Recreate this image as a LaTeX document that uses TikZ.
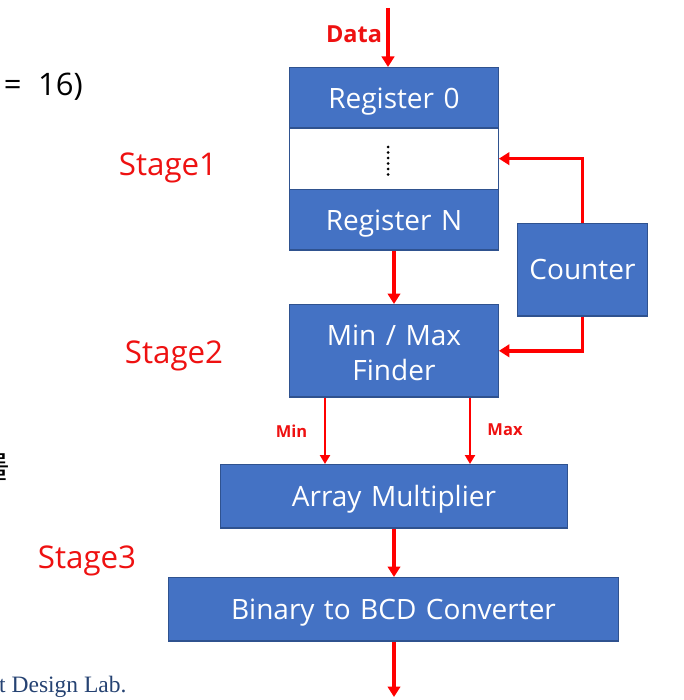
\documentclass[tikz,border=0pt]{standalone}
\usepackage{fontspec}
\setmainfont{Open Sans}[WordSpace=1.3]
\newfontfamily\krfont{Noto Sans CJK KR}
\newfontfamily\serifl{Liberation Serif}
\usetikzlibrary{arrows.meta}
\definecolor{boxblue}{HTML}{4472C4}
\definecolor{boxedge}{HTML}{2F528F}
\definecolor{redtxt}{HTML}{EE1111}
\tikzset{
  x=1pt,y=-1pt,
  block/.style={draw=boxedge,line width=1.3pt,fill=boxblue,text=white,font=\fontsize{28}{33}\selectfont,align=center,inner sep=0pt,anchor=north west},
  midbox/.style={draw=boxedge,line width=1.3pt,fill=white,inner sep=0pt,anchor=north west},
  flow/.style={draw=red,line width=3.7pt,-{Triangle[length=10.5pt,width=12.5pt]}},
  thin flow/.style={draw=red,line width=2.4pt,-{Triangle[length=9pt,width=10pt]}},
  stage/.style={text=redtxt,font=\fontsize{31.3}{36}\selectfont,inner sep=0pt},
  tag/.style={text=redtxt,font=\bfseries\fontsize{16.5}{19}\selectfont,inner sep=0pt},
}
\begin{document}
\begin{tikzpicture}
\useasboundingbox (0,0) rectangle (683,700);
\node[midbox,minimum width=208.6pt,minimum height=62pt] (mid) at (289,127) {};
\node[block,minimum width=208.6pt,minimum height=60.3pt,text depth=-7pt] (r0) at (289,67) {Register 0};
\node[block,minimum width=208.6pt,minimum height=60.3pt,text depth=-7pt] (rn) at (289,189) {Register N};
\node[block,minimum width=129.6pt,minimum height=92.3pt,text depth=-9pt] (cnt) at (517,223) {Counter};
\node[block,minimum width=208.6pt,minimum height=92.3pt,font=\fontsize{28}{35}\selectfont] (mm) at (289,304) {\rule{0pt}{24pt}Min / Max\\Finder};
\node[block,minimum width=346.6pt,minimum height=63.3pt,text depth=-7pt] (am) at (220,464) {Array Multiplier};
\node[block,minimum width=449.6pt,minimum height=63.3pt,text depth=-8pt] (bcd) at (168,577) {Binary to BCD Converter};
\foreach \y in {147,152.5,158,163.5,169,174.5} \fill (388,\y) circle (1.5pt);
\coordinate (top) at (388,8);
\coordinate (bottom) at (394,697);
\draw[flow] (top) -- (r0.north -| top);
\draw[flow] (rn.south -| 394,0) -- (mm.north -| 394,0);
\draw[flow] (cnt.north) |- (mid.east);
\draw[flow] (cnt.south) |- (mm.east);
\draw[thin flow] (mm.south -| 325,0) -- (am.north -| 325,0);
\draw[thin flow] (mm.south -| 470,0) -- (am.north -| 470,0);
\draw[flow] (am.south -| 394,0) -- (bcd.north -| 394,0);
\draw[flow] (bcd.south -| bottom) -- (bottom);
\node[tag,font=\bfseries\fontsize{23.5}{27}\selectfont] (data) at (354,34) {Data};
\node[tag] (min) at (291.5,431) {Min};
\node[tag] (max) at (505,430) {Max};
\node[stage] (s1) at (168,168) {Stage1};
\node[stage] (s2) at (174,356) {Stage2};
\node[stage] (s3) at (87,561) {Stage3};
\node[inner sep=0pt,anchor=east,font=\fontsize{31}{36}\selectfont] (eq) at (83,87) {=\hspace{6pt} 16)};
\node[inner sep=0pt,anchor=east,text=black,font=\krfont\fontsize{31}{36}\selectfont] (kr) at (10,467) {를};
\node[inner sep=0pt,anchor=base west,text=boxedge!80!black,font=\serifl\fontsize{23.5}{27}\selectfont] (lab) at (-1,692) {t Design Lab.};
\end{tikzpicture}
\end{document}
